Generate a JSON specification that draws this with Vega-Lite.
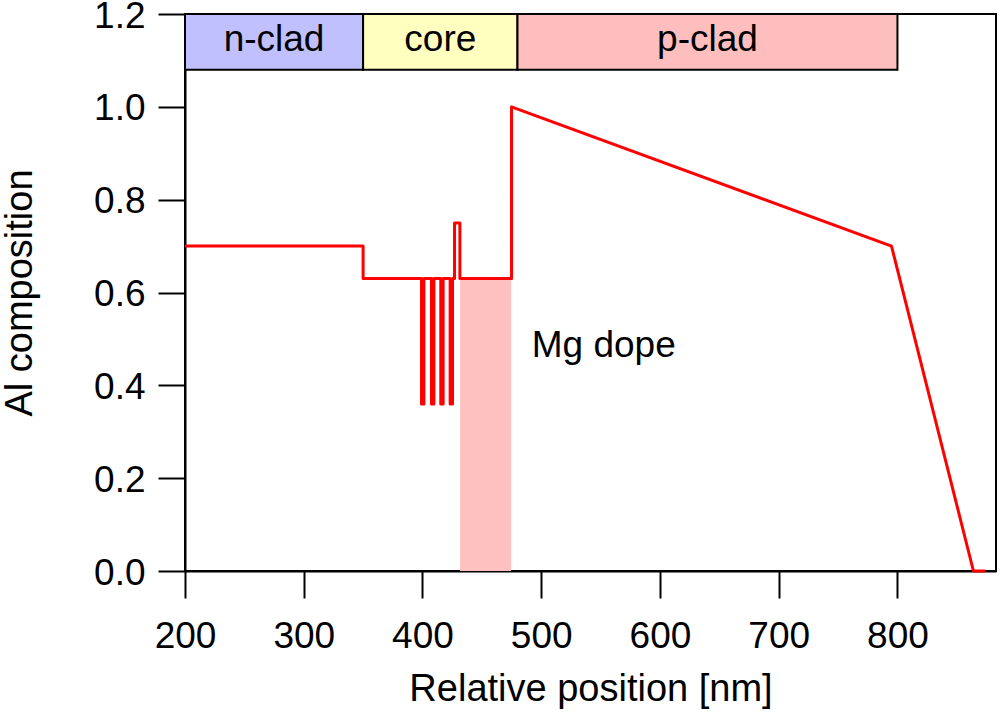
{
  "$schema": "https://vega.github.io/schema/vega-lite/v6.json",
  "autosize": {"type": "none"},
  "padding": {"left": 185, "top": 14, "right": 4, "bottom": 144},
  "width": 811,
  "height": 557,
  "config": {
    "font": "Liberation Sans",
    "view": {"stroke": "black", "strokeWidth": 2},
    "axis": {
      "grid": false,
      "labelFlush": false,
      "labelOverlap": false,
      "labelFont": "Liberation Sans",
      "labelFontSize": 37,
      "labelColor": "black",
      "titleFont": "Liberation Sans",
      "titleFontSize": 38,
      "titleFontWeight": "normal",
      "titleColor": "black",
      "domainColor": "black",
      "domainWidth": 2,
      "tickColor": "black",
      "tickWidth": 2,
      "tickSize": 27
    }
  },
  "datasets": {
    "profile": [
      {"i": 1, "pos": 200, "al": 0.70},
      {"i": 2, "pos": 350, "al": 0.70},
      {"i": 3, "pos": 350, "al": 0.63},
      {"i": 4, "pos": 399.2, "al": 0.63},
      {"i": 5, "pos": 399.2, "al": 0.36},
      {"i": 6, "pos": 401.2, "al": 0.36},
      {"i": 7, "pos": 401.2, "al": 0.63},
      {"i": 8, "pos": 407.6, "al": 0.63},
      {"i": 9, "pos": 407.6, "al": 0.36},
      {"i": 10, "pos": 409.6, "al": 0.36},
      {"i": 11, "pos": 409.6, "al": 0.63},
      {"i": 12, "pos": 415.4, "al": 0.63},
      {"i": 13, "pos": 415.4, "al": 0.36},
      {"i": 14, "pos": 417.4, "al": 0.36},
      {"i": 15, "pos": 417.4, "al": 0.63},
      {"i": 16, "pos": 423.3, "al": 0.63},
      {"i": 17, "pos": 423.3, "al": 0.36},
      {"i": 18, "pos": 425.3, "al": 0.36},
      {"i": 19, "pos": 425.3, "al": 0.63},
      {"i": 20, "pos": 427, "al": 0.63},
      {"i": 21, "pos": 427, "al": 0.75},
      {"i": 22, "pos": 431.5, "al": 0.75},
      {"i": 23, "pos": 431.5, "al": 0.63},
      {"i": 24, "pos": 475, "al": 0.63},
      {"i": 25, "pos": 475, "al": 1.0},
      {"i": 26, "pos": 795, "al": 0.70},
      {"i": 27, "pos": 864, "al": 0.0},
      {"i": 28, "pos": 874, "al": 0.0}
    ],
    "layers": [
      {"name": "n-clad", "x1": 200, "x2": 350, "mid": 275, "color": "#c0c0ff"},
      {"name": "core", "x1": 350, "x2": 480, "mid": 415, "color": "#ffffc0"},
      {"name": "p-clad", "x1": 480, "x2": 800, "mid": 640, "color": "#ffbebe"}
    ]
  },
  "layer": [
    {
      "data": {"values": [{"x1": 431.7, "x2": 474.7, "y1": 0, "y2": 0.63}]},
      "mark": {"type": "rect", "color": "#ffc0c0"},
      "encoding": {
        "x": {
          "field": "x1", "type": "quantitative",
          "scale": {"domain": [200, 883], "nice": false, "zero": false},
          "axis": {"values": [200, 300, 400, 500, 600, 700, 800], "title": "Relative position [nm]", "labelPadding": 20, "titlePadding": 16}
        },
        "x2": {"field": "x2"},
        "y": {
          "field": "y1", "type": "quantitative",
          "scale": {"domain": [0, 1.2], "nice": false},
          "axis": {"values": [0, 0.2, 0.4, 0.6, 0.8, 1.0, 1.2], "format": ".1f", "title": "Al composition", "labelPadding": 13, "labelOffset": 2, "titlePadding": 54}
        },
        "y2": {"field": "y2"}
      }
    },
    {
      "data": {"name": "layers"},
      "mark": {"type": "rect", "stroke": "black", "strokeWidth": 2},
      "encoding": {
        "x": {"field": "x1", "type": "quantitative"},
        "x2": {"field": "x2"},
        "y": {"datum": 1.08, "type": "quantitative"},
        "y2": {"datum": 1.2},
        "fill": {"field": "color", "type": "nominal", "scale": null}
      }
    },
    {
      "data": {"name": "layers"},
      "mark": {"type": "text", "fontSize": 37, "baseline": "alphabetic", "align": "center", "color": "black"},
      "encoding": {
        "x": {"field": "mid", "type": "quantitative"},
        "y": {"datum": 1.12, "type": "quantitative"},
        "text": {"field": "name"}
      }
    },
    {
      "data": {"name": "profile"},
      "mark": {"type": "line", "color": "#ff0000", "strokeWidth": 3, "strokeJoin": "round"},
      "encoding": {
        "x": {"field": "pos", "type": "quantitative"},
        "y": {"field": "al", "type": "quantitative"},
        "order": {"field": "i"}
      }
    },
    {
      "data": {"values": [{"label": "Mg dope", "x": 492, "y": 0.46}]},
      "mark": {"type": "text", "fontSize": 37, "baseline": "alphabetic", "align": "left", "color": "black"},
      "encoding": {
        "x": {"field": "x", "type": "quantitative"},
        "y": {"field": "y", "type": "quantitative"},
        "text": {"field": "label"}
      }
    }
  ]
}
